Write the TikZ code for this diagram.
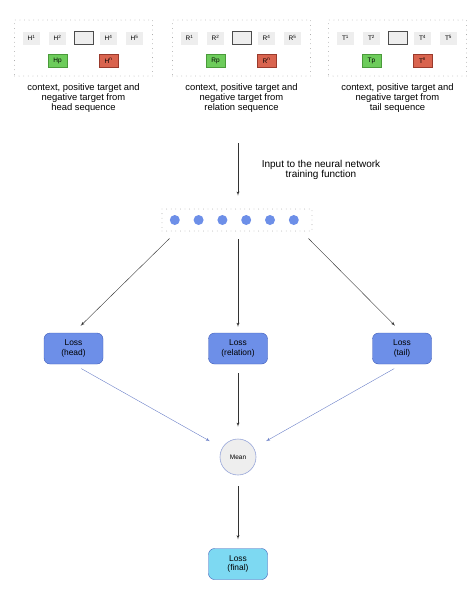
\documentclass[tikz,border=0pt]{standalone}
\usepackage{fontspec}
\setmainfont{Liberation Sans}
\usetikzlibrary{arrows}
\usetikzlibrary{positioning}
\usetikzlibrary{calc}
\definecolor{tokgray}{HTML}{EEEEEE}
\definecolor{dotgray}{HTML}{9A9A9A}
\definecolor{pgreen}{HTML}{6DCC5B}
\definecolor{pgreenb}{HTML}{4A9A3A}
\definecolor{nred}{HTML}{D9644F}
\definecolor{nredb}{HTML}{9A3A2C}
\definecolor{mblue}{HTML}{6D8FE8}
\definecolor{mblueb}{HTML}{3F5CB8}
\definecolor{mcyan}{HTML}{7DD9F2}
\definecolor{lblue}{HTML}{6B80C8}
\tikzset{tok/.style = {fill=tokgray, minimum width=17, minimum height=13, inner sep=0,
                       font=\fontsize{6.5}{7}\selectfont}}
\tikzset{blank/.style = {tok, draw=black!70, semithick, minimum width=19}}
\tikzset{postgt/.style = {tok, fill=pgreen, draw=pgreenb, minimum width=19}}
\tikzset{negtgt/.style = {tok, fill=nred, draw=nredb, minimum width=19}}
\tikzset{grp/.style = {draw=dotgray, line width=0.8pt, line cap=round,
                       dash pattern=on 0pt off 4.6pt, minimum width=138, minimum height=56}}
\tikzset{capt/.style = {align=center, inner sep=0, font=\fontsize{9.4}{9.6}\selectfont}}
\tikzset{unit/.style = {fill=mblue, circle, inner sep=0, minimum size=10}}
\tikzset{loss/.style = {fill=mblue, draw=mblueb, rounded corners=6, minimum width=59,
                        minimum height=31, align=center, inner sep=0,
                        font=\fontsize{8.4}{9.2}\selectfont}}
\tikzset{arr/.style = {-latex', black!80}}

\begin{document}
\begin{tikzpicture}[x=1pt, y=-1pt]
      \useasboundingbox (0,0) rectangle (474,606);

      % context, positive and negative targets
      \foreach \g/\L/\cx/\seq in {h/H/83.5/head, r/R/241.5/relation, t/T/397.5/tail} {
        \node [grp] (grp-\g) at (\cx, 48) {};
        \node [blank] (\g-3) at (\cx, 38) {};
        \foreach \i/\dx in {1/-52, 2/-26, 4/25, 5/51}
          \node [tok] (\g-\i) at (\cx + \dx, 38) {\L\textsuperscript{\i}};
        \node [postgt] (\g-p) at (\cx - 26, 61) {\L p};
        \node [negtgt] (\g-n) at (\cx + 25, 61) {\L\textsuperscript{n}};
        \node [capt, font=\fontsize{9.4}{10}\selectfont, below=7.5pt of grp-\g] (cap-\g) {context, positive target and\\negative target from\\\seq\ sequence};
      }

      % input layer
      \coordinate (in) at (238, 143);
      \node [draw=dotgray, line width=0.8pt, line cap=round, dash pattern=on 0pt off 4.6pt,
             minimum width=150, minimum height=22] (emb) at (237, 220) {};
      \foreach \i in {1,...,6}
        \node [unit] (u-\i) at (151 + 23.8 * \i, 220) {};
      \draw [arr, shorten >=13pt] (in) -- (in |- emb.north);
      \node [capt, font=\fontsize{10}{10}\selectfont] (in-label) at (321, 170) {Input to the neural network\\training function};

      % losses
      \node [loss] (l-h) at (73.5, 348.5) {Loss\\(head)};
      \node [loss] (l-r) at (238, 348.5) {Loss\\(relation)};
      \node [loss] (l-t) at (402, 348.5) {Loss\\(tail)};
      \coordinate (e-h) at ($(emb.south west) + (8, 7)$);
      \coordinate (e-t) at ($(emb.south east) + (-4, 7)$);
      \draw [arr, shorten >=10pt] (e-h) -- (l-h.north);
      \draw [arr, shorten <=8pt, shorten >=6pt] (emb.south -| l-r) -- (l-r.north);
      \draw [arr, shorten >=10pt] (e-t) -- (l-t.north);

      % mean and final loss
      \node [circle, fill=tokgray, draw=lblue!70, semithick, minimum size=36, inner sep=0,
             font=\fontsize{6.5}{7}\selectfont] (mean) at (238, 457) {Mean};
      \node [loss, fill=mcyan] (l-f) at (238, 564) {Loss\\(final)};
      \draw [-latex', lblue, shorten <=9pt, shorten >=14pt] (l-h.south) -- (mean);
      \draw [arr, shorten <=9pt, shorten >=12pt] (l-r.south) -- (mean.north);
      \draw [-latex', lblue, shorten <=9pt, shorten >=14pt] (l-t.south) -- (mean);
      \draw [arr, shorten <=11pt, shorten >=9pt] (mean.south) -- (l-f.north);
    \end{tikzpicture}
\end{document}
